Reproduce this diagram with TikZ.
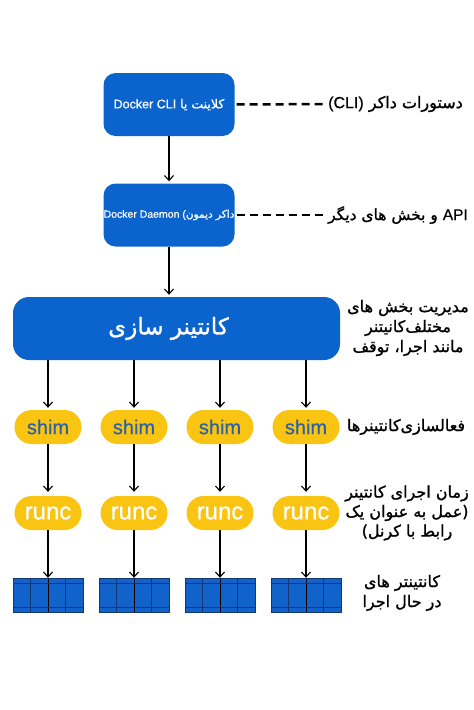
\documentclass[tikz,border=0pt]{standalone}
\usepackage{fontspec}
\usetikzlibrary{arrows.meta}
\setmainfont{Liberation Sans}
\newfontfamily\fa[Script=Arabic, RawFeature={embolden=1.2}]{DejaVu Sans}
\newfontfamily\en[RawFeature={embolden=0.6}]{Liberation Sans}
\TeXXeTstate=1
\definecolor{dockerblue}{RGB}{11,99,206}
\definecolor{shimyellow}{RGB}{250,196,18}
\definecolor{shimtext}{RGB}{44,98,164}
\definecolor{boxedge}{RGB}{22,54,112}
\definecolor{boxfill}{RGB}{18,98,204}

\begin{document}
\begin{tikzpicture}[x=1pt, y=-1pt]
            \tikzstyle{bluebox} = [fill=dockerblue, rounded corners=12pt, text=white,
                minimum width=131pt, minimum height=63pt, inner sep=0pt]
            \tikzstyle{pill} = [fill=shimyellow, rounded corners=17pt,
                minimum width=67pt, minimum height=34pt, inner sep=0pt]
            \tikzstyle{runbox} = [draw=boxedge, fill=boxfill, minimum width=70pt,
                minimum height=34pt, inner sep=0pt, path picture={
                \draw[boxedge] ([xshift=-17.5pt]path picture bounding box.north)
                    -- ([xshift=-17.5pt]path picture bounding box.south);
                \draw[boxedge] ([xshift=17.5pt]path picture bounding box.north)
                    -- ([xshift=17.5pt]path picture bounding box.south);
                \draw[black] (path picture bounding box.north)
                    -- (path picture bounding box.south);
                \draw[boxedge, thin] ([yshift=-5pt]path picture bounding box.north west)
                    -- ([yshift=-5pt]path picture bounding box.north east);
                \draw[boxedge, thin] ([yshift=5pt]path picture bounding box.south west)
                    -- ([yshift=5pt]path picture bounding box.south east);}]
            \tikzstyle{note} = [align=center, inner sep=3pt,
                font=\fa\fontsize{16}{20}\selectfont]
            \tikzstyle{link} = [line width=1.1pt, -{Straight Barb[length=5pt, width=9pt]}]
            \tikzstyle{tag} = [line width=2.5pt, dash pattern=on 8pt off 5pt]

            \useasboundingbox (0,0) rectangle (474,710);

            % top: client and daemon
            \node[bluebox, font=\fa\fontsize{12.5}{14}\selectfont] (cli) at (169,104.5)
                {\beginR کلاینت یا \beginL{\en Docker CLI}\endL\endR};
            \node[bluebox, font=\fa\fontsize{10.5}{12}\selectfont] (daemon) at (169,215)
                {\beginR داکر دیمون\beginL{\en Docker Daemon (}\endL\endR};
            \node[note, anchor=west] (clinote) at (325,104)
                {\beginR دستورات داکر \beginL{\en (CLI)}\endL\endR};
            \node[note, anchor=west, font=\fa\fontsize{15.5}{20}\selectfont] (daemonnote) at (325,215)
                {\beginR\beginL{\en API}\endL{} و بخش های دیگر\endR};
            \draw[tag, shorten <=2pt] (cli) -- (clinote);
            \draw[tag, shorten <=2pt] (daemon) -- (daemonnote);
            \draw[link, shorten >=2pt] (cli) -- (daemon);

            % containerd
            \node[bluebox, rounded corners=16pt, minimum width=327pt,
                font=\fa\fontsize{23}{26}\selectfont] (core) at (176.5,328.5)
                {\beginR کانتینر سازی\endR\kern16pt};
            \node[note] (corenote) at (408,328)
                {\beginR مدیریت بخش های\endR\\ \beginR مختلف‌کانیتنر\endR\\
                 \beginR مانند اجرا، توقف\endR};
            \draw[link, shorten >=2pt] (daemon) -- (daemon |- core.north);

            % shims
            \node[pill, text=shimtext, font=\en\fontsize{20}{22}\selectfont] (shimA) at (48,427) {shim};
            \node[pill, text=shimtext, font=\en\fontsize{20}{22}\selectfont] (shimB) at (134,427) {shim};
            \node[pill, text=shimtext, font=\en\fontsize{20}{22}\selectfont] (shimC) at (220,427) {shim};
            \node[pill, text=shimtext, font=\en\fontsize{20}{22}\selectfont] (shimD) at (306,427) {shim};
            \node[note] (shimnote) at (406,427) {\beginR فعالسازی‌کانتینرها\endR};
            \draw[link, shorten >=2pt] (core.south -| shimA) -- (shimA);
            \draw[link, shorten >=2pt] (core.south -| shimB) -- (shimB);
            \draw[link, shorten >=2pt] (core.south -| shimC) -- (shimC);
            \draw[link, shorten >=2pt] (core.south -| shimD) -- (shimD);

            % runc
            \node[pill, text=white, font=\en\fontsize{24}{26}\selectfont] (runcA) at (48,513) {runc};
            \node[pill, text=white, font=\en\fontsize{24}{26}\selectfont] (runcB) at (134,513) {runc};
            \node[pill, text=white, font=\en\fontsize{24}{26}\selectfont] (runcC) at (220,513) {runc};
            \node[pill, text=white, font=\en\fontsize{24}{26}\selectfont] (runcD) at (306,513) {runc};
            \node[note, font=\fa\fontsize{16}{19.5}\selectfont] (runcnote) at (407,513)
                {\beginR زمان اجرای کانتینر\endR\\ \beginR (عمل به عنوان یک\endR\\
                 \beginR رابط با کرنل)\endR};
            \draw[link, shorten >=4pt] (shimA) -- (runcA);
            \draw[link, shorten >=4pt] (shimB) -- (runcB);
            \draw[link, shorten >=4pt] (shimC) -- (runcC);
            \draw[link, shorten >=4pt] (shimD) -- (runcD);

            % running containers
            \node[runbox] (boxA) at (48,595) {};
            \node[runbox] (boxB) at (134,595) {};
            \node[runbox] (boxC) at (220,595) {};
            \node[runbox] (boxD) at (306,595) {};
            \node[note] (boxnote) at (402,593)
                {\beginR کانتینتر های\endR\\ \beginR در حال اجرا\endR};
            \draw[link] (runcA) -- (boxA);
            \draw[link] (runcB) -- (boxB);
            \draw[link] (runcC) -- (boxC);
            \draw[link] (runcD) -- (boxD);
        \end{tikzpicture}
\end{document}
